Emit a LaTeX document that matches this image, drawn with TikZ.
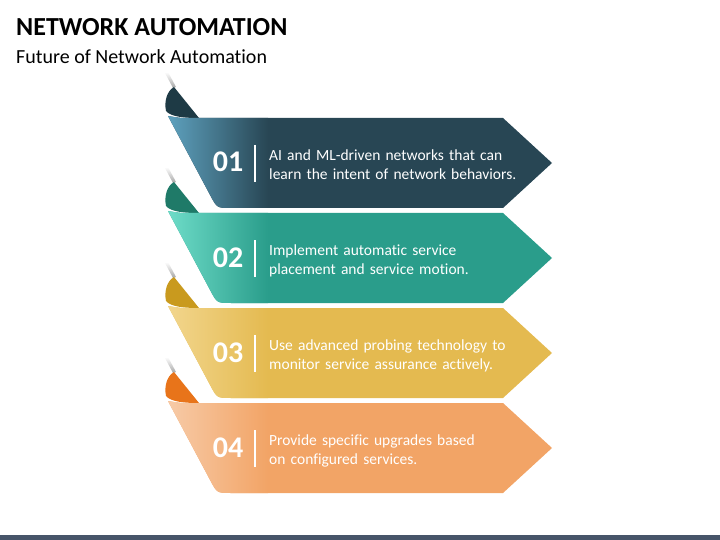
\documentclass[tikz,border=0pt]{standalone}
\usepackage{fontspec}
\setmainfont{Carlito}[Ligatures=NoCommon]
\definecolor{c1main}{HTML}{284654}\definecolor{c1light}{HTML}{5FA3C0}\definecolor{c1curl}{HTML}{1E3A45}
\definecolor{c2main}{HTML}{2A9D8B}\definecolor{c2light}{HTML}{6FDDC9}\definecolor{c2curl}{HTML}{1F7A68}
\definecolor{c3main}{HTML}{E4BA50}\definecolor{c3light}{HTML}{F2D68E}\definecolor{c3curl}{HTML}{C99A1E}
\definecolor{c4main}{HTML}{F2A466}\definecolor{c4light}{HTML}{F7CBA8}\definecolor{c4curl}{HTML}{E8741A}
\definecolor{barcol}{HTML}{475569}
\tikzset{
  numstyle/.style={anchor=base, inner sep=0pt, text=white, font=\fontsize{30}{30}\selectfont\bfseries},
  txtstyle/.style={anchor=base west, inner sep=0pt, text=white, text width=270pt, align=left, font=\fontsize{15.5}{19}\selectfont},
  sepline/.style={white, line width=1.6pt},
}
\newcommand\ribbonrow[5]{%
  \begin{scope}[shift={(0,#1)}]
    \shade[top color=white, bottom color=black!35] (165,-45) -- (168,-46) -- (176,-31) -- (173,-30) -- cycle;
    \fill[#2curl] (199,0) -- (174,-31) .. controls (167,-27) and (164,-17) .. (166,-7) .. controls (171,-1) and (185,0) .. (199,0) -- cycle;
    \begin{scope}
      \clip (168,-2) .. controls (180,0) .. (190,0) -- (503,0) -- (552,45) -- (503,90) -- (231,90) .. controls (217,90) .. (210.4,77.6) -- cycle;
      \fill[#2main] (160,-5) rectangle (560,95);
      \shade[left color=#2light, right color=#2main] (166,-5) rectangle (268,95);
    \end{scope}
    \node[numstyle] (num#2) at (228,54) {#3};
    \draw[sepline] (255,27) -- (255,64);
    \node[txtstyle] (txt#2) at (269,42.5) {#4\\#5};
  \end{scope}}
\begin{document}
\begin{tikzpicture}[x=1pt,y=-1pt]
\useasboundingbox (0,0) rectangle (720,540);
\node[anchor=base west, inner sep=0pt, font=\fontsize{26}{26}\selectfont\bfseries] (title) at (16,36) {NETWORK AUTOMATION};
\node[anchor=base west, inner sep=0pt, font=\fontsize{20}{20}\selectfont] (subtitle) at (16,64) {Future of Network Automation};
\ribbonrow{118}{c1}{01}{AI and ML-driven networks that can}{learn the intent of network behaviors.}
\ribbonrow{213}{c2}{02}{Implement automatic service}{placement and service motion.}
\ribbonrow{308}{c3}{03}{Use advanced probing technology to}{monitor service assurance actively.}
\ribbonrow{403}{c4}{04}{Provide specific upgrades based}{on configured services.}
\fill[barcol] (0,535) rectangle (720,540);
\end{tikzpicture}
\end{document}
